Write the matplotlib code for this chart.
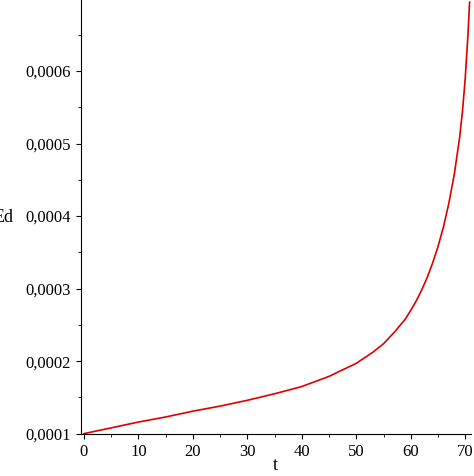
import matplotlib
matplotlib.use("Agg")
import matplotlib.pyplot as plt
from matplotlib.ticker import MultipleLocator, FuncFormatter

plt.rcParams['font.family'] = ['Liberation Serif']

# values
t = [0, 5, 10, 15, 20, 25, 30, 35, 40, 45, 50, 53, 55, 57, 59, 60, 61, 62, 63, 64, 65, 66, 67, 68, 69, 69.5, 70, 70.5, 70.8]
ed = [0.000100, 0.000108, 0.000116, 0.000123, 0.000131, 0.000138, 0.000146, 0.000155, 0.000165, 0.000179, 0.000197,
      0.000212, 0.000224, 0.000240, 0.000258, 0.000270, 0.000283, 0.000298, 0.000315, 0.000335, 0.000358, 0.000385,
      0.000418, 0.000458, 0.000510, 0.000545, 0.000590, 0.000650, 0.000695]

fig = plt.figure(figsize=(4.74, 4.76), dpi=100)
ax = fig.add_axes([0.17, 0.088, 0.823, 0.912])
ax.plot(t, ed, color='#dd0000', lw=1.2)
ax.set_xlim(-0.6, 71)
ax.set_ylim(0.0000994, 0.000698)
for s in ['top', 'right']:
    ax.spines[s].set_visible(False)
ax.xaxis.set_major_locator(MultipleLocator(10))
ax.xaxis.set_minor_locator(MultipleLocator(5))
ax.yaxis.set_major_locator(MultipleLocator(0.0001))
ax.yaxis.set_minor_locator(MultipleLocator(0.00005))
ax.yaxis.set_major_formatter(FuncFormatter(lambda v, p: f"{v:.4f}".replace('.', ',')))
ax.tick_params(labelsize=12)
ax.set_xlabel('t', fontsize=13, labelpad=-2)
ax.set_ylabel('Ed', fontsize=13, rotation=0, labelpad=16, va='center')
fig.savefig('out.png')
